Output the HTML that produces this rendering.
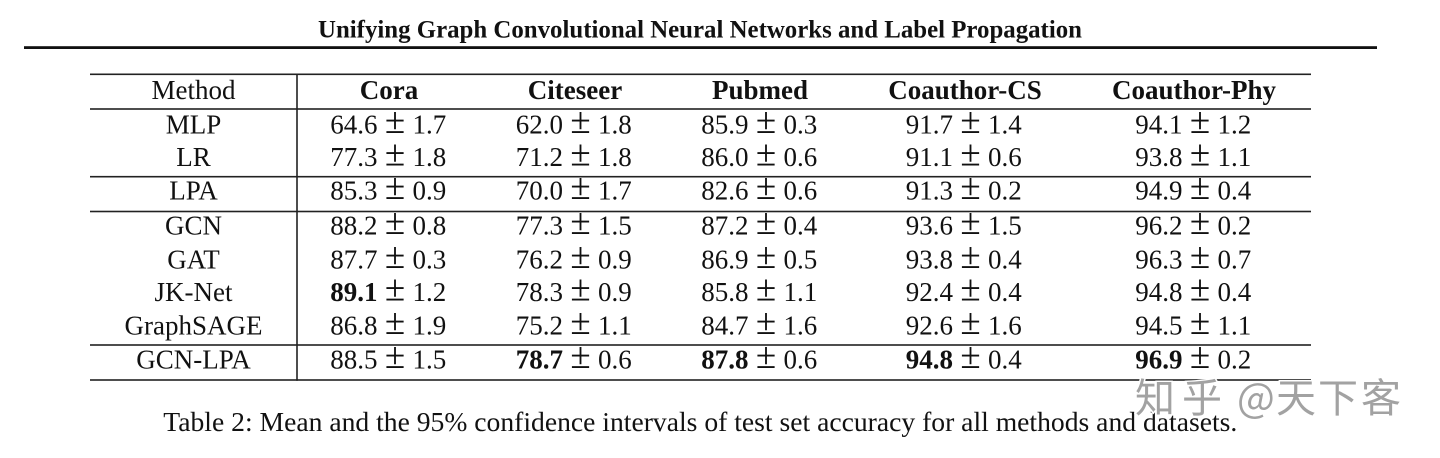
<!DOCTYPE html>
<html>
<head>
<meta charset="utf-8">
<style>
  html, body { margin: 0; padding: 0; background: #ffffff; }
  body { width: 1440px; height: 458px; overflow: hidden; position: relative; }
  svg { display: block; }
  .t { font-family: "Liberation Serif", "Times New Roman", serif; fill: #111; }
  .b { font-weight: bold; }
  .wm { font-family: "Noto Sans CJK SC", "WenQuanYi Zen Hei", sans-serif; fill: #a2a2a2; stroke: #ffffff; stroke-width: 3px; paint-order: stroke; }
</style>
</head>
<body>
<svg width="1440" height="458" viewBox="0 0 1440 458" xmlns="http://www.w3.org/2000/svg">
  <!-- Title -->
  <text class="t b" x="318" y="37.5" font-size="25" textLength="764" lengthAdjust="spacingAndGlyphs">Unifying Graph Convolutional Neural Networks and Label Propagation</text>
  <rect x="24" y="46.2" width="1353" height="2.8" fill="#111"/>

  <!-- Table rules -->
  <g fill="#222">
    <rect x="90" y="73.5" width="1221" height="1.6"/>
    <rect x="90" y="108.2" width="1221" height="1.6"/>
    <rect x="90" y="175.9" width="1221" height="1.6"/>
    <rect x="90" y="210.7" width="1221" height="1.6"/>
    <rect x="90" y="344.2" width="1221" height="1.6"/>
    <rect x="90" y="379.2" width="1221" height="1.6"/>
    <rect x="296.2" y="73.5" width="1.6" height="307.3"/>
  </g>

  <!-- Header -->
  <g class="t" font-size="27" text-anchor="middle">
    <text x="193.5" y="99">Method</text>
    <text class="b" x="389" y="99">Cora</text>
    <text class="b" x="575" y="99">Citeseer</text>
    <text class="b" x="760" y="99">Pubmed</text>
    <text class="b" x="965" y="99">Coauthor-CS</text>
    <text class="b" x="1194" y="99">Coauthor-Phy</text>
  </g>

  <!-- Method names -->
  <g class="t" font-size="27" text-anchor="middle">
    <text x="193.5" y="133.3">MLP</text>
    <text x="193.5" y="166">LR</text>
    <text x="193.5" y="199.3">LPA</text>
    <text x="193.5" y="234.3">GCN</text>
    <text x="193.5" y="268.3">GAT</text>
    <text x="193.5" y="301">JK-Net</text>
    <text x="193.5" y="334.3">GraphSAGE</text>
    <text x="193.5" y="368.3">GCN-LPA</text>
  </g>

  <!-- Data cells -->
  <g class="t" font-size="27" id="cells">
  </g>
</svg>

<script>
(function(){
  var ns = "http://www.w3.org/2000/svg";
  var g = document.getElementById("cells");
  var cols = [389, 574.5, 760, 964.5, 1194];
  var rows = [133.3, 166, 199.3, 234.3, 268.3, 301, 334.3, 368.3];
  var data = [
    [["64.6","1.7"],["62.0","1.8"],["85.9","0.3"],["91.7","1.4"],["94.1","1.2"]],
    [["77.3","1.8"],["71.2","1.8"],["86.0","0.6"],["91.1","0.6"],["93.8","1.1"]],
    [["85.3","0.9"],["70.0","1.7"],["82.6","0.6"],["91.3","0.2"],["94.9","0.4"]],
    [["88.2","0.8"],["77.3","1.5"],["87.2","0.4"],["93.6","1.5"],["96.2","0.2"]],
    [["87.7","0.3"],["76.2","0.9"],["86.9","0.5"],["93.8","0.4"],["96.3","0.7"]],
    [["*89.1","1.2"],["78.3","0.9"],["85.8","1.1"],["92.4","0.4"],["94.8","0.4"]],
    [["86.8","1.9"],["75.2","1.1"],["84.7","1.6"],["92.6","1.6"],["94.5","1.1"]],
    [["88.5","1.5"],["*78.7","0.6"],["*87.8","0.6"],["*94.8","0.4"],["*96.9","0.2"]]
  ];
  function mk(x, y, txt, anchor, bold, size){
    var t = document.createElementNS(ns, "text");
    t.setAttribute("x", x);
    t.setAttribute("y", y);
    t.setAttribute("text-anchor", anchor);
    if (bold) t.setAttribute("font-weight", "bold");
    if (size) t.setAttribute("font-size", size);
    t.textContent = txt;
    g.appendChild(t);
  }
  for (var r = 0; r < rows.length; r++) {
    for (var c = 0; c < cols.length; c++) {
      var cx = cols[c], y = rows[r];
      var a = data[r][c][0], b = data[r][c][1];
      var bold = false;
      if (a.charAt(0) === "*") { bold = true; a = a.slice(1); }
      mk(cx - 11.5, y, a, "end", bold);
      mk(cx + 6, y - 0.5, "\u00B1", "middle", false, 37);
      mk(cx + 23.5, y, b, "start", false);
    }
  }
})();
</script>

<svg width="1440" height="458" viewBox="0 0 1440 458" xmlns="http://www.w3.org/2000/svg" style="position:absolute;left:0;top:0;">
  <!-- Caption -->
  <text class="t" x="163.3" y="431" font-size="27" textLength="1074" lengthAdjust="spacingAndGlyphs">Table 2: Mean and the 95% confidence intervals of test set accuracy for all methods and datasets.</text>
  <!-- Watermark -->
  <text class="wm" y="412" font-size="40" x="1135 1182 1237 1276 1318 1361">知乎@天下客</text>
</svg>
</body>
</html>
